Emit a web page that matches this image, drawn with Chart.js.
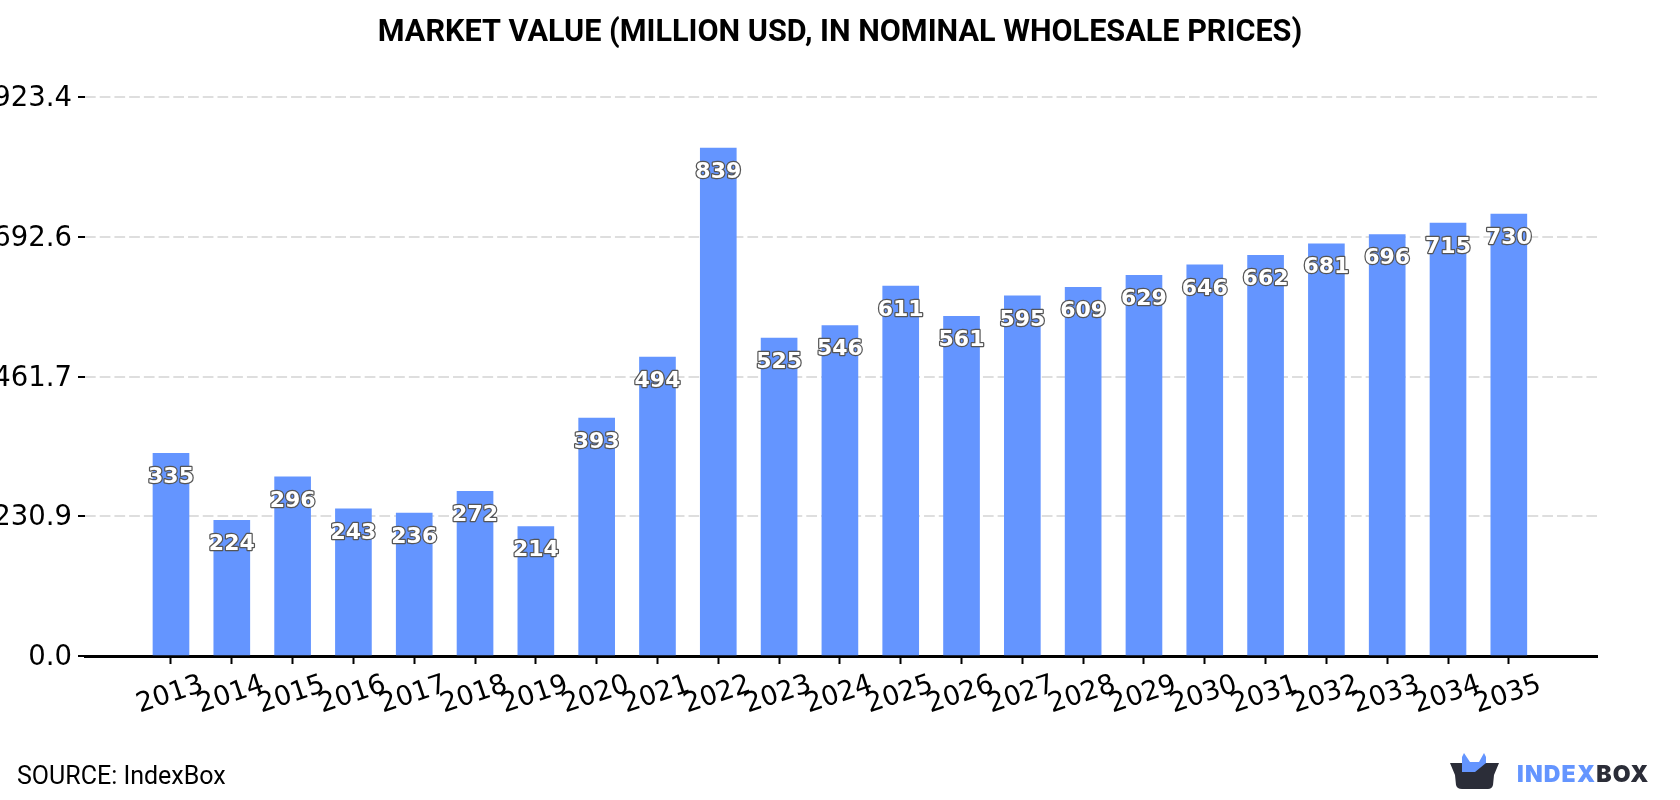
<!DOCTYPE html>
<html>
<head>
<meta charset="utf-8">
<title>Market value</title>
<script src="https://cdn.jsdelivr.net/npm/chart.js@4/dist/chart.umd.min.js"></script>
<style>
    html, body { margin: 0; padding: 0; background: #fff; }
    canvas { display: block; }
</style>
</head>
<body>
<canvas id="marketChart" width="1680" height="800"></canvas>
<script>
    const years = [2013, 2014, 2015, 2016, 2017, 2018, 2019, 2020, 2021, 2022, 2023, 2024,
        2025, 2026, 2027, 2028, 2029, 2030, 2031, 2032, 2033, 2034, 2035];
    const marketValues = [335, 224, 296, 243, 236, 272, 214, 393, 494, 839, 525, 546,
        611, 561, 595, 609, 629, 646, 662, 681, 696, 715, 730];
    const yTicks = [0, 230.9, 461.7, 692.6, 923.4];

    const BLUE = '#6495ff';
    const DARK = '#2b2d38';

    // Value label inside the top of each bar, white with a dark outline
    const barLabels = {
        id: 'barLabels',
        afterDatasetsDraw(chart) {
            const ctx = chart.ctx;
            ctx.save();
            ctx.font = 'bold 22px "DejaVu Sans"';
            ctx.textAlign = 'center';
            ctx.textBaseline = 'middle';
            ctx.lineJoin = 'round';
            chart.getDatasetMeta(0).data.forEach((bar, i) => {
                ctx.lineWidth = 2.5;
                ctx.strokeStyle = '#555';
                ctx.strokeText(marketValues[i], bar.x, bar.y + 24);
                ctx.fillStyle = '#fff';
                ctx.fillText(marketValues[i], bar.x, bar.y + 24);
            });
            ctx.restore();
        }
    };

    // Chart.js right-aligns rotated labels, these ones sit centred under the tick
    const yearLabels = {
        id: 'yearLabels',
        afterDraw(chart) {
            const ctx = chart.ctx;
            const scale = chart.scales.x;
            ctx.save();
            ctx.font = '27px "DejaVu Sans"';
            ctx.fillStyle = '#000';
            ctx.textAlign = 'center';
            ctx.textBaseline = 'middle';
            scale.ticks.forEach(tick => {
                ctx.save();
                ctx.translate(scale.getPixelForValue(tick.value) - 1, 695);
                ctx.rotate(-18.5 * Math.PI / 180);
                ctx.fillText(tick.value, 0, 0);
                ctx.restore();
            });
            ctx.restore();
        }
    };

    // Source line and logo in the footer
    const footer = {
        id: 'footer',
        afterDraw(chart) {
            const ctx = chart.ctx;
            ctx.save();
            ctx.font = '25px Roboto';
            ctx.fillStyle = '#000';
            ctx.textBaseline = 'alphabetic';
            ctx.fillText('SOURCE: IndexBox', 17, 784);

            // box
            ctx.fillStyle = DARK;
            ctx.beginPath();
            ctx.moveTo(1450, 763);
            ctx.lineTo(1499, 763);
            ctx.lineTo(1494, 775);
            ctx.lineTo(1493, 785);
            ctx.quadraticCurveTo(1492, 789, 1488, 789);
            ctx.lineTo(1462, 789);
            ctx.quadraticCurveTo(1457, 789, 1456, 785);
            ctx.lineTo(1455, 775);
            ctx.closePath();
            ctx.fill();

            // ears coming out of the box
            ctx.fillStyle = BLUE;
            ctx.beginPath();
            ctx.moveTo(1462, 772);
            ctx.lineTo(1462, 757);
            ctx.lineTo(1464, 753);
            ctx.lineTo(1470, 762);
            ctx.lineTo(1479, 762);
            ctx.lineTo(1484, 753);
            ctx.lineTo(1486, 757);
            ctx.lineTo(1486, 763);
            ctx.lineTo(1475, 772);
            ctx.closePath();
            ctx.fill();

            ctx.font = '900 23px Inter';
            ctx.letterSpacing = '1.2px';
            ctx.fillStyle = BLUE;
            ctx.fillText('INDEX', 1517, 782);
            const indexWidth = ctx.measureText('INDEX').width;
            ctx.fillStyle = DARK;
            ctx.fillText('BOX', 1517 + indexWidth, 782);
            ctx.restore();
        }
    };

    new Chart(document.getElementById('marketChart').getContext('2d'), {
        type: 'bar',
        data: {
            datasets: [{
                data: years.map((year, i) => ({ x: year, y: marketValues[i] })),
                backgroundColor: BLUE,
                barThickness: 36
            }]
        },
        options: {
            responsive: false,
            animation: false,
            plugins: {
                legend: { display: false },
                tooltip: { enabled: false },
                title: {
                    display: true,
                    text: 'MARKET VALUE (MILLION USD, IN NOMINAL WHOLESALE PRICES)',
                    color: '#000',
                    font: { family: 'Roboto', weight: 'bold', size: 30.6 },
                    padding: { top: 15, bottom: 45.3 }
                }
            },
            scales: {
                x: {
                    type: 'linear',
                    offset: false,
                    min: 2011.586,
                    max: 2036.45,
                    afterBuildTicks: scale => { scale.ticks = years.map(value => ({ value })); },
                    afterFit: scale => { scale.height = 144; },
                    border: { color: '#000', width: 3 },
                    grid: { offset: false, drawOnChartArea: false, tickColor: '#000', tickWidth: 2, tickLength: 8 },
                    ticks: { display: false }
                },
                y: {
                    min: 0,
                    max: 923.4,
                    afterBuildTicks: scale => { scale.ticks = yTicks.map(value => ({ value })); },
                    afterFit: scale => { scale.width = 85; },
                    border: { display: false, dash: [10.7, 4.02] },
                    grid: { color: '#dedede', lineWidth: 2, tickColor: '#000', tickWidth: 2, tickLength: 7 },
                    ticks: {
                        color: '#000',
                        font: { family: 'DejaVu Sans', size: 27.5 },
                        padding: 6,
                        labelOffset: 2,
                        callback: value => value.toFixed(1)
                    }
                },
                // empty axis, keeps the margin right of the plot without moving the title off centre
                rightMargin: {
                    axis: 'y',
                    position: 'right',
                    afterFit: scale => { scale.width = 83; },
                    border: { display: false },
                    grid: { display: false },
                    ticks: { display: false }
                }
            }
        },
        plugins: [barLabels, yearLabels, footer]
    });
</script>
</body>
</html>
